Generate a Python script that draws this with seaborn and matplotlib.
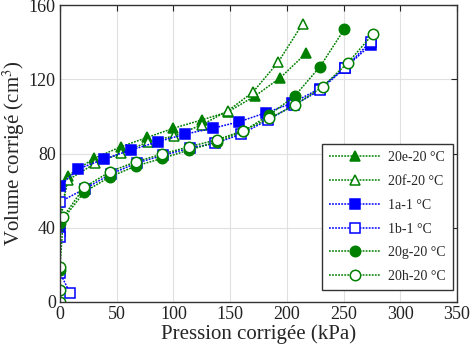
import pandas as pd
import matplotlib
matplotlib.use("Agg")
import matplotlib.pyplot as plt
import seaborn as sns

# ---- data (pression kPa, volume cm3) ----
p_20e = [0, 0, 7, 30, 54, 77, 100, 125, 148, 172, 194, 217]
v_20e = [18, 42, 68, 77.4, 83.7, 88.7, 93.6, 98.1, 102.4, 111, 120.7, 134]

p_20f = [0, 0, 7, 31, 54, 78, 100.5, 125, 148, 170, 192.5, 214]
v_20f = [0, 47, 65.7, 74.7, 80.1, 86.4, 89.4, 95.4, 103, 113, 129.3, 150]

p_1a = [0, 0, 16, 39, 62.6, 86.7, 110, 134.7, 158, 181.7, 204.3, 229, 251, 274]
v_1a = [38, 62.5, 71.7, 77, 81.9, 86.4, 90.4, 93.6, 97.1, 102, 107, 115, 126, 138.5]

p_1b = [9, 0, 0, 0, 22, 45, 68, 91, 115, 137, 160, 183, 206, 229, 251, 274]
v_1b = [4.7, 15.6, 35, 54, 61, 69, 75, 79, 83, 85.5, 90.5, 98, 106, 114, 126, 140.3]

p_20g = [0, 0, 21.4, 44, 67, 90.2, 114, 138, 161.6, 184.6, 207, 229.3, 250.7]
v_20g = [17, 42.5, 59.3, 67.4, 73.3, 77.4, 81.9, 86.2, 92, 100.8, 111, 126.8, 147]

p_20h = [0, 0, 0, 3, 21.4, 44, 67, 90.2, 114, 138, 161.6, 184.7, 207, 231.6, 254, 276]
v_20h = [0, 6.5, 19, 46, 61.8, 70.2, 75.6, 79.7, 83.7, 87.3, 92.3, 99, 106, 116, 129, 144.4]

labels = ["20e-20 °C", "20f-20 °C", "1a-1 °C", "1b-1 °C", "20g-20 °C", "20h-20 °C"]
pressions = [p_20e, p_20f, p_1a, p_1b, p_20g, p_20h]
volumes = [v_20e, v_20f, v_1a, v_1b, v_20g, v_20h]

green = (0, 0.5, 0)
blue = (0, 0, 1)
styles = {"20e-20 °C": (green, "^", True),
          "20f-20 °C": (green, "^", False),
          "1a-1 °C": (blue, "s", True),
          "1b-1 °C": (blue, "s", False),
          "20g-20 °C": (green, "o", True),
          "20h-20 °C": (green, "o", False)}

df = pd.concat([pd.DataFrame({"serie": lab, "p": p, "v": v, "ordre": range(len(p))})
                for lab, p, v in zip(labels, pressions, volumes)], ignore_index=True)

sns.set_style("whitegrid")
plt.rcParams["font.family"] = ["Liberation Serif", "DejaVu Serif"]
plt.rcParams["mathtext.fontset"] = "stix"

fig = plt.figure(figsize=(4.74, 3.53), dpi=100)
ax = fig.add_axes([0.1266, 0.1445, 0.8374, 0.8413])

for lab in labels:
    col, mk, filled = styles[lab]
    sub = df[df.serie == lab]
    sns.lineplot(data=sub, x="p", y="v", sort=False, estimator=None, ax=ax,
                 color=col, linestyle=(0, (1.2, 0.8)), linewidth=1.1,
                 marker=mk, markersize=7.5 if mk != "s" else 6.5,
                 markerfacecolor=col if filled else "white",
                 markeredgecolor=col, markeredgewidth=1.1, label=lab)

ax.set_xlim(0, 350)
ax.set_ylim(0, 160)
ax.set_xticks(range(0, 351, 50))
ax.set_yticks(range(0, 161, 40))
ax.grid(True, color="#e0e0e0", linewidth=0.8)
for s in ax.spines.values():
    s.set_color("#333333")
    s.set_linewidth(1.0)
ax.tick_params(direction="in", top=True, right=True, length=4, labelsize=13,
               colors="#222222", pad=3)
ax.set_xlabel("Pression corrigée (kPa)", fontsize=15, labelpad=1)
ax.set_ylabel(r"Volume corrigé (cm$^3$)", fontsize=15, labelpad=1)

leg = ax.legend(loc="lower right", bbox_to_anchor=(0.99, 0.04), borderaxespad=0,
                fontsize=10, handlelength=3.8, handletextpad=0.5, labelspacing=0.78,
                borderpad=0.5, fancybox=False, framealpha=1, edgecolor="#333333")
leg.get_frame().set_linewidth(1.0)

fig.savefig("out.png", dpi=100)
